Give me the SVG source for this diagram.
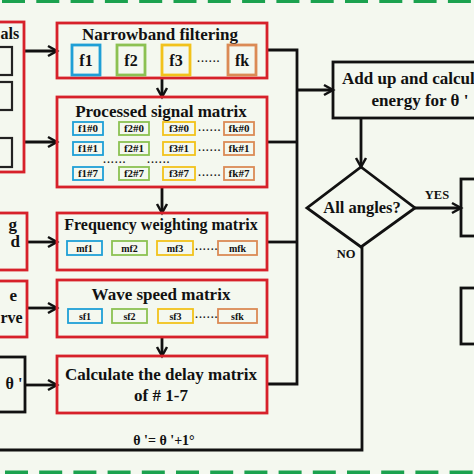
<svg xmlns="http://www.w3.org/2000/svg" width="474" height="474" viewBox="0 0 474 474">
<defs>
<marker id="ah" markerUnits="userSpaceOnUse" markerWidth="12" markerHeight="12" refX="9" refY="5" orient="auto" overflow="visible">
<path d="M0,0 L9,5 L0,10" fill="none" stroke="#111" stroke-width="2.5"/>
</marker>
<style>
.t{font-family:"Liberation Serif","Times New Roman",serif;font-weight:bold;fill:#111;text-anchor:middle}
.rb{fill:none;stroke:#d7212a;stroke-width:2.8}
.bb{fill:none;stroke:#111;stroke-width:2.8}
.ln{fill:none;stroke:#111;stroke-width:2.8}
.ar{fill:none;stroke:#111;stroke-width:2.8;marker-end:url(#ah)}
.c1{fill:none;stroke:#1f9fd6}
.c2{fill:none;stroke:#8cc152}
.c3{fill:none;stroke:#f2c21b}
.c4{fill:none;stroke:#db8a55}
.big{stroke-width:2.8}
.sm{stroke-width:1.8}
.h{font-size:17px}
.s{font-size:11px}
.ss{font-size:10px}
.fk{font-size:16px}
.dd{font-size:10px;letter-spacing:1.4px}
</style>
</defs>
<rect width="474" height="474" fill="#f4f8ef"/>
<line x1="0" y1="1" x2="474" y2="1" stroke="#1ba24f" stroke-width="4" stroke-dasharray="23 11.3" stroke-dashoffset="-2"/>
<line x1="0" y1="472.5" x2="474" y2="472.5" stroke="#1ba24f" stroke-width="4" stroke-dasharray="23 11.2" stroke-dashoffset="-5"/>

<g id="connectors">
<line class="ar" x1="24" y1="51" x2="57" y2="51"/>
<line class="ar" x1="24" y1="142" x2="57" y2="142"/>
<line class="ar" x1="27" y1="242" x2="57" y2="242"/>
<line class="ar" x1="27" y1="308" x2="57" y2="308"/>
<line class="ar" x1="25" y1="385" x2="57" y2="385"/>
<line class="ar" x1="162" y1="78" x2="162" y2="97"/>
<line class="ar" x1="162" y1="187" x2="162" y2="213"/>
<line class="ar" x1="162" y1="337" x2="162" y2="356"/>
<polyline class="ln" points="267,50 297,50 297,384 267,384"/>
<line class="ln" x1="267" y1="142" x2="297" y2="142"/>
<line class="ln" x1="267" y1="242" x2="297" y2="242"/>
<line class="ar" x1="297" y1="90" x2="333" y2="90"/>
<line class="ar" x1="361" y1="118" x2="361" y2="167"/>
<line class="ar" x1="415" y1="208" x2="461" y2="208"/>
<polyline class="ln" points="362,247 362,450 -5,450"/>
<text class="t" x="437" y="199" style="font-size:12.5px">YES</text>
<text class="t" x="346" y="258" style="font-size:12.5px">NO</text>
<text class="t" x="164" y="445" style="font-size:14px">θ '= θ '+1°</text>
</g>

<g id="signals">
<rect class="rb" x="-5" y="22" width="29" height="150"/>
<text class="t" x="0.5" y="39" style="text-anchor:start;font-size:16px">als</text>
<rect class="bb" x="-5" y="47" width="17" height="28" style="stroke:#222;stroke-width:2.2"/>
<rect class="bb" x="-5" y="82" width="17" height="28" style="stroke:#222;stroke-width:2.2"/>
<rect class="bb" x="-5" y="138" width="17" height="29" style="stroke:#222;stroke-width:2.2"/>
</g>

<g id="weighting-method">
<rect class="rb" x="-5" y="213" width="32" height="57"/>
<text class="t h" x="17" y="230" style="text-anchor:end">g</text>
<text class="t h" x="20" y="247" style="text-anchor:end">d</text>
</g>

<g id="speed-curve">
<rect class="rb" x="-5" y="281" width="32" height="56"/>
<text class="t h" x="17" y="301" style="text-anchor:end">e</text>
<text class="t" x="0.5" y="323" style="text-anchor:start;font-size:16px">rve</text>
</g>

<g id="theta">
<rect class="bb" x="-5" y="357" width="30" height="55"/>
<text class="t fk" x="14" y="389">θ '</text>
</g>

<g id="narrowband">
<rect class="rb" x="57" y="23" width="210" height="55"/>
<text class="t h" x="160" y="40">Narrowband filtering</text>
<rect class="c1 big" x="72" y="45" width="28" height="30"/>
<rect class="c2 big" x="117" y="45" width="28" height="30"/>
<rect class="c3 big" x="162" y="45" width="28" height="30"/>
<rect class="c4 big" x="228" y="45" width="28" height="30"/>
<text class="t fk" x="86" y="66">f1</text>
<text class="t fk" x="131" y="66">f2</text>
<text class="t fk" x="176" y="66">f3</text>
<text class="t fk" x="242" y="66">fk</text>
<text class="t dd" x="209" y="62">......</text>
</g>

<g id="processed">
<rect class="rb" x="57" y="97" width="210" height="90"/>
<text class="t h" x="161" y="117">Processed signal matrix</text>
<rect class="c1 sm" x="73" y="122" width="30" height="13"/>
<rect class="c2 sm" x="119" y="122" width="30" height="13"/>
<rect class="c3 sm" x="163" y="122" width="32" height="13"/>
<rect class="c4 sm" x="224" y="122" width="30" height="13"/>
<text class="t s" x="88" y="132">f1#0</text>
<text class="t s" x="134" y="132">f2#0</text>
<text class="t s" x="179" y="132">f3#0</text>
<text class="t s" x="239" y="132">fk#0</text>
<text class="t dd" x="210" y="131">......</text>
<rect class="c1 sm" x="73" y="142" width="30" height="13"/>
<rect class="c2 sm" x="119" y="142" width="30" height="13"/>
<rect class="c3 sm" x="163" y="142" width="32" height="13"/>
<rect class="c4 sm" x="224" y="142" width="30" height="13"/>
<text class="t s" x="88" y="152">f1#1</text>
<text class="t s" x="134" y="152">f2#1</text>
<text class="t s" x="179" y="152">f3#1</text>
<text class="t s" x="239" y="152">fk#1</text>
<text class="t dd" x="210" y="151">......</text>
<text class="t dd" x="115" y="163">......</text>
<text class="t dd" x="159" y="163">......</text>
<rect class="c1 sm" x="73" y="167" width="30" height="13"/>
<rect class="c2 sm" x="119" y="167" width="30" height="13"/>
<rect class="c3 sm" x="163" y="167" width="32" height="13"/>
<rect class="c4 sm" x="224" y="167" width="30" height="13"/>
<text class="t s" x="88" y="177">f1#7</text>
<text class="t s" x="134" y="177">f2#7</text>
<text class="t s" x="179" y="177">f3#7</text>
<text class="t s" x="239" y="177">fk#7</text>
<text class="t dd" x="210" y="176">......</text>
</g>

<g id="frequency-weighting">
<rect class="rb" x="57" y="213" width="210" height="57"/>
<text class="t" x="161" y="230" style="font-size:16px">Frequency weighting matrix</text>
<rect class="c1 sm" x="67" y="241" width="35" height="14"/>
<rect class="c2 sm" x="112" y="241" width="35" height="14"/>
<rect class="c3 sm" x="157" y="241" width="36" height="14"/>
<rect class="c4 sm" x="218" y="241" width="39" height="14"/>
<text class="t ss" x="84.5" y="252">mf1</text>
<text class="t ss" x="129.5" y="252">mf2</text>
<text class="t ss" x="175" y="252">mf3</text>
<text class="t ss" x="237.5" y="252">mfk</text>
<text class="t dd" x="207" y="250">......</text>
</g>

<g id="wave-speed">
<rect class="rb" x="57" y="280" width="210" height="57"/>
<text class="t h" x="161" y="300">Wave speed matrix</text>
<rect class="c1 sm" x="68" y="309" width="34" height="14"/>
<rect class="c2 sm" x="112" y="309" width="35" height="14"/>
<rect class="c3 sm" x="158" y="309" width="35" height="14"/>
<rect class="c4 sm" x="218" y="309" width="39" height="14"/>
<text class="t ss" x="85" y="320">sf1</text>
<text class="t ss" x="129.5" y="320">sf2</text>
<text class="t ss" x="175.5" y="320">sf3</text>
<text class="t ss" x="237.5" y="320">sfk</text>
<text class="t dd" x="207" y="318">......</text>
</g>

<g id="delay">
<rect class="rb" x="57" y="356" width="210" height="57"/>
<text class="t h" x="161" y="380">Calculate the delay matrix</text>
<text class="t h" x="161" y="401">of # 1-7</text>
</g>

<g id="add-up">
<rect class="bb" x="333" y="62" width="150" height="56"/>
<text class="t h" x="342" y="84" style="text-anchor:start">Add up and calcul</text>
<text class="t h" x="420" y="106">energy for  θ '</text>
</g>

<g id="all-angles">
<polygon class="bb" points="361,167 415,208 361,247 307,208"/>
<text class="t" x="362" y="213" style="font-size:16.5px">All angles?</text>
</g>

<g id="result-a">
<rect class="bb" x="461" y="179" width="30" height="57"/>
</g>
<g id="result-b">
<rect class="bb" x="461" y="288" width="30" height="56"/>
</g>
</svg>
